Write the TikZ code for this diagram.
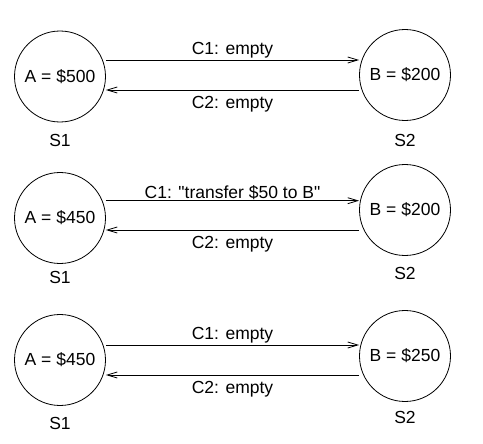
\documentclass[tikz,border=0pt]{standalone}
\usepackage{fontspec}
\setmainfont{Liberation Sans}[Ligatures=TeXOff]
\usetikzlibrary{arrows.meta,calc}
\begin{document}
\begin{tikzpicture}[x=1pt,y=-1pt,
 txt/.style={font=\fontsize{17.5}{20}\selectfont},
 state/.style={draw,circle,minimum size=91pt,inner sep=0pt,line width=0.8pt,txt},
 chan/.style={line width=0.8pt,-{Straight Barb[length=10pt,width=6pt,line width=0.8pt]}},
 up/.style={above,inner sep=1pt,txt},
 dn/.style={below,inner sep=1pt,yshift=-5pt,txt}]
\useasboundingbox (0,0) rectangle (483,444);
% row 1
\node[state] (A1) at (60,76.5) {A = \$500};
\node[state] (B1) at (405,75) {B = \$200};
\node[txt] (S11) at (60,140) {S1};
\node[txt] (S21) at (405,140) {S2};
\coordinate (t1) at ($(A1.east)+(0,-16.5)$);
\coordinate (b1) at ($(A1.east)+(0,13.5)$);
\draw[chan] (t1) -- (t1 -| B1.west) node[midway,up]{C1: empty};
\draw[chan] (b1 -| B1.west) -- (b1) node[midway,dn]{C2: empty};
% row 2
\node[state] (A2) at (60,218) {A = \$450};
\node[state] (B2) at (405,210) {B = \$200};
\node[txt] (S12) at (60,277) {S1};
\node[txt] (S22) at (405,273) {S2};
\coordinate (t2) at ($(A2.east)+(0,-17.3)$);
\coordinate (b2) at ($(A2.east)+(0,12)$);
\draw[chan] (t2) -- (t2 -| B2.west) node[midway,up]{C1: "transfer \$50 to B"};
\draw[chan] (b2 -| B2.west) -- (b2) node[midway,dn]{C2: empty};
% row 3
\node[state] (A3) at (60,360) {A = \$450};
\node[state] (B3) at (405,356) {B = \$250};
\node[txt] (S13) at (60,423) {S1};
\node[txt] (S23) at (405,417) {S2};
\coordinate (t3) at ($(A3.east)+(0,-15)$);
\coordinate (b3) at ($(A3.east)+(0,15)$);
\draw[chan] (t3) -- (t3 -| B3.west) node[midway,up]{C1: empty};
\draw[chan] (b3 -| B3.west) -- (b3) node[midway,dn]{C2: empty};
\end{tikzpicture}
\end{document}
